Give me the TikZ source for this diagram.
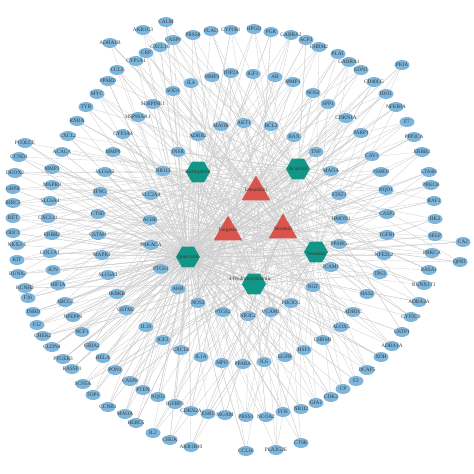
\documentclass[tikz,border=0pt]{standalone}
\usepackage{fontspec}
\setmainfont{Liberation Serif}
\usetikzlibrary{shapes.geometric,backgrounds}
\definecolor{genefill}{RGB}{126,182,219}
\definecolor{hexfill}{RGB}{18,150,136}
\definecolor{trifill}{RGB}{217,84,77}
\definecolor{edgecol}{RGB}{205,205,205}
\definecolor{labcol}{RGB}{55,55,55}
\begin{document}
\begin{tikzpicture}[x=1pt,y=-1pt,
 gene/.style={ellipse,fill=genefill,minimum width=15pt,minimum height=10pt,inner sep=0pt},
 glab/.style={font=\fontsize{5.3}{6}\selectfont,text=labcol,inner sep=0pt},
 hexnode/.style={regular polygon,regular polygon sides=6,fill=hexfill,minimum size=24pt,inner sep=0pt},
 trinode/.style={regular polygon,regular polygon sides=3,fill=trifill,minimum size=33pt,inner sep=0pt},
 edge/.style={draw=edgecol,line width=0.3pt}]
\useasboundingbox (0,0) rectangle (474,474);
% compounds
\node[hexnode] (c1) at (198,172) {};
\node[hexnode] (c2) at (298,169) {};
\node[trinode] (c3) at (256,192) {};
\node[trinode] (c4) at (228,232) {};
\node[trinode] (c5) at (283,230) {};
\node[hexnode] (c6) at (188,257) {};
\node[hexnode] (c7) at (316,252) {};
\node[hexnode] (c8) at (254,284) {};
% genes
\foreach \lab/\x/\y [count=\i] in {
CALM/166/22, AKR1C3/143/30, PRSS8/193/35, PLAU/211/31, CYP1B1/231/30, HPGD/254/29,
PGR/271/32, GABRA2/291/35, ACP3/306/40, CHRM2/319/47, PLAT/338/54, GABRA1/349/62,
EDN1/361/70, PKIA/402/65, CD40LG/374/82, IDO1/386/94, NFKBIA/396/107, F7/407/122,
PPP3CA/414/137, ERBB3/422/152, CAV1/372/156, PARP1/361/133, CDKN1A/346/118, SPP1/328/104,
NOS2/313/93, MMP1/293/82, AR/275/77, IGF1/253/74, TOP2A/231/73, MMP2/212/77,
IL4/191/83, SOD1/173/91, SERPINE1/153/104, HSP90AA1/138/117, CYP3A4/123/134, MMP9/113/152,
INSR/178/152, ADRB2/198/136, MAOB/221/126, AKT1/244/123, BCL2/271/126, BAX/294/137,
TNF/316/152, CASP9/173/40, CXCL10/160/47, CRP/146/53, CYP1A1/136/61, CCL2/117/70,
PPARD/108/81, MYC/97/94, TYR/86/107, RXRA/77/121, CXCL2/68/136, ADRA1B/110/43,
PCOLCE/25/143, ACACA/62/152, CCND1/19/157, DUOX2/15/173, MMP3/52/169, SLC6A2/105/172,
GRPR/13/189, MAPK8/52/185, IFNG/100/192, BIRC5/13/203, SLC6A4/50/201, RET/13/218,
CXCL11/48/218, CTSD/98/214, ODC1/13/233, ERBB2/52/235, GSTM1/98/235, NKX3-1/17/245,
COL1A1/50/253, MAPK1/102/255, KIT/17/260, RUNX2/18/274, JUN/53/270, SLC6A3/108/275,
KCNH2/25/288, HIF1A/58/285, F10/28/298, IKBKB/117/294, ABCG2/65/302, THBD/33/312,
NPEPPS/73/317, F12/37/325, CHEK2/43/336, NCF1/82/332, CLDN4/52/347, GRIA2/92/346,
PTGER3/63/359, RELA/103/358, RASSF1/72/369, PON1/115/370, SCN5A/83/384, TOP1/93/395,
CCNB1/108/407, MAOA/125/414, HERC5/136/423, IL2/153/433, CHUK/170/440, AKR1B10/191/447,
CASP8/130/381, PTEN/143/390, NQO2/158/397, IGFBP3/175/404, CDKN2A/191/411, ESR1/208/414,
MGAM/225/415, PRSS1/246/417, NCOA2/266/417, FOS/283/412, NR1I2/301/409, GJA1/316/403,
CDK2/331/397, CP/343/389, F2/356/381, DCAF5/367/370, XDH/381/357, ADRA1A/392/346,
GSTP1/402/332, CYP2C9/411/317, CTSK/301/443, PLA2G2E/276/450, CCL16/246/451, IL10/146/327,
IGF2/163/340, CXCL8/181/350, IL1A/201/357, MPO/222/363, PPARA/243/364, IL6/264/362,
EGFR/285/357, HSF1/304/350, CHRM1/323/340, ALOX5/341/327, NR3C2/248/316, PTGS2/223/312,
NOS3/198/303, GSTM2/126/310, AHR/178/289, PTGS1/161/269, PRKACA/151/245, ACHE/150/220,
SLC2A4/151/195, NR1I3/163/171, MAOA/331/171, STAT1/339/195, HMOX1/341/219, PPARG/339/244,
ICAM1/331/267, NGF/313/287, PIK3CG/291/303, VCAM1/271/312, ADH1C/353/312, HAS2/367/294,
ADRA2A/419/302, RUNX1T1/424/285, TP63/380/274, RASA1/429/270, NFE2L2/384/255, PRKCA/432/253,
QPRT/460/262, CA2/463/242, SELP/435/236, TGFB1/387/235, HK2/435/219, CASP3/387/214,
RAF1/434/201, NQO1/386/190, PRKCB/431/185, LTA4H/429/172, PSMD3/381/172}
{
  \node[gene] (g\i) at (\x,\y) {};
  \node[glab] at (g\i) {\lab};
}
% edges
\begin{pgfonlayer}{background}
\foreach \i in {1,...,173}{
  \pgfmathtruncatemacro\a{mod(\i,8)+1}
  \pgfmathtruncatemacro\b{mod(3*\i+2,8)+1}
  \pgfmathtruncatemacro\c{mod(5*\i+5,7)+1}
  \draw[edge] (g\i) -- (c\a);
  \draw[edge] (g\i) -- (c\b);
  \draw[edge] (g\i) -- (c\c);
  \draw[edge] (g\i) -- (c6);
}
\end{pgfonlayer}
% compound labels
\node[glab] at (c1) {Kaempferol};
\node[glab] at (c2) {Acacetin};
\node[glab] at (256,190) {Denudatin};
\node[glab] at (228,230) {Fargesin};
\node[glab] at (283,229) {Sesamin};
\node[glab] at (c6) {Quercetin};
\node[glab] at (316,254) {Sesamin};
\node[glab] at (250,279) {4-Hydroxycinnamic};
\end{tikzpicture}
\end{document}
